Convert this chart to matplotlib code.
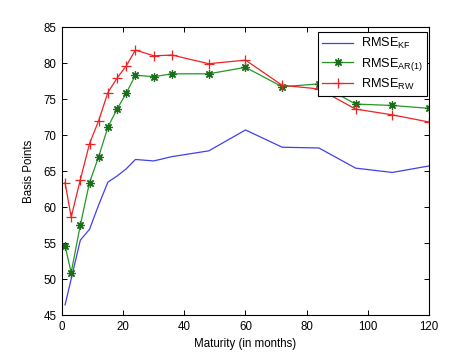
import matplotlib
matplotlib.use("Agg")
import matplotlib.pyplot as plt

plt.rcParams['font.family'] = ['Liberation Sans', 'DejaVu Sans']
plt.rcParams['mathtext.fontset'] = 'custom'
plt.rcParams['mathtext.rm'] = 'Liberation Sans'
plt.rcParams['mathtext.default'] = 'regular'

maturity = [1, 3, 6, 9, 12, 15, 18, 21, 24, 30, 36, 48, 60, 72, 84, 96, 108, 120]
rmse_kf = [46.4, 50.0, 55.4, 56.9, 60.3, 63.45, 64.3, 65.3, 66.6, 66.4, 67.0, 67.8, 70.7, 68.3, 68.2, 65.4, 64.8, 65.7]
rmse_ar1 = [54.6, 50.9, 57.5, 63.4, 67.0, 71.1, 73.6, 75.8, 78.3, 78.1, 78.5, 78.5, 79.4, 76.7, 77.1, 74.3, 74.1, 73.7]
rmse_rw = [63.4, 58.6, 63.8, 68.8, 72.0, 75.9, 77.9, 79.6, 81.8, 81.0, 81.1, 79.9, 80.4, 76.9, 76.4, 73.6, 72.8, 71.8]

xticks = [0, 20, 40, 60, 80, 100, 120]
yticks = [45, 50, 55, 60, 65, 70, 75, 80, 85]

fig = plt.figure(figsize=(4.74, 3.55), dpi=100)
ax = fig.add_axes([62/474, 40/355, (429-62)/474, (315-27)/355])

ax.plot(maturity, rmse_kf, color='#4040ee', lw=0.9, label='RMSE$_{KF}$')
ax.plot(maturity, rmse_ar1, color='#229922', lw=0.9, marker=(8, 2, 0), ms=6,
        mec='#1a6f1a', mew=0.9, label='RMSE$_{AR(1)}$')
ax.plot(maturity, rmse_rw, color='#ee2222', lw=0.9, marker='+', ms=7.5,
        mew=0.9, label='RMSE$_{RW}$')

ax.set_xlim(0, 120)
ax.set_ylim(45, 85)
ax.set_xticks(xticks)
ax.set_yticks(yticks)
ax.tick_params(direction='in', top=True, right=True, labelsize=8.3, length=3.5,
               width=0.7, pad=4)
for s in ax.spines.values():
    s.set_linewidth(0.8)
ax.set_xlabel('Maturity (in months)', fontsize=8.3, labelpad=4)
ax.set_ylabel('Basis Points', fontsize=8.3, labelpad=6)

leg = ax.legend(loc='upper right', bbox_to_anchor=(0.9946, 0.983),
                borderaxespad=0, fontsize=9.2, fancybox=False, framealpha=1,
                edgecolor='black', borderpad=0.35, labelspacing=0.32,
                handlelength=2.4, handletextpad=0.6)
leg.get_frame().set_linewidth(0.8)

fig.savefig('out.png', dpi=100)
